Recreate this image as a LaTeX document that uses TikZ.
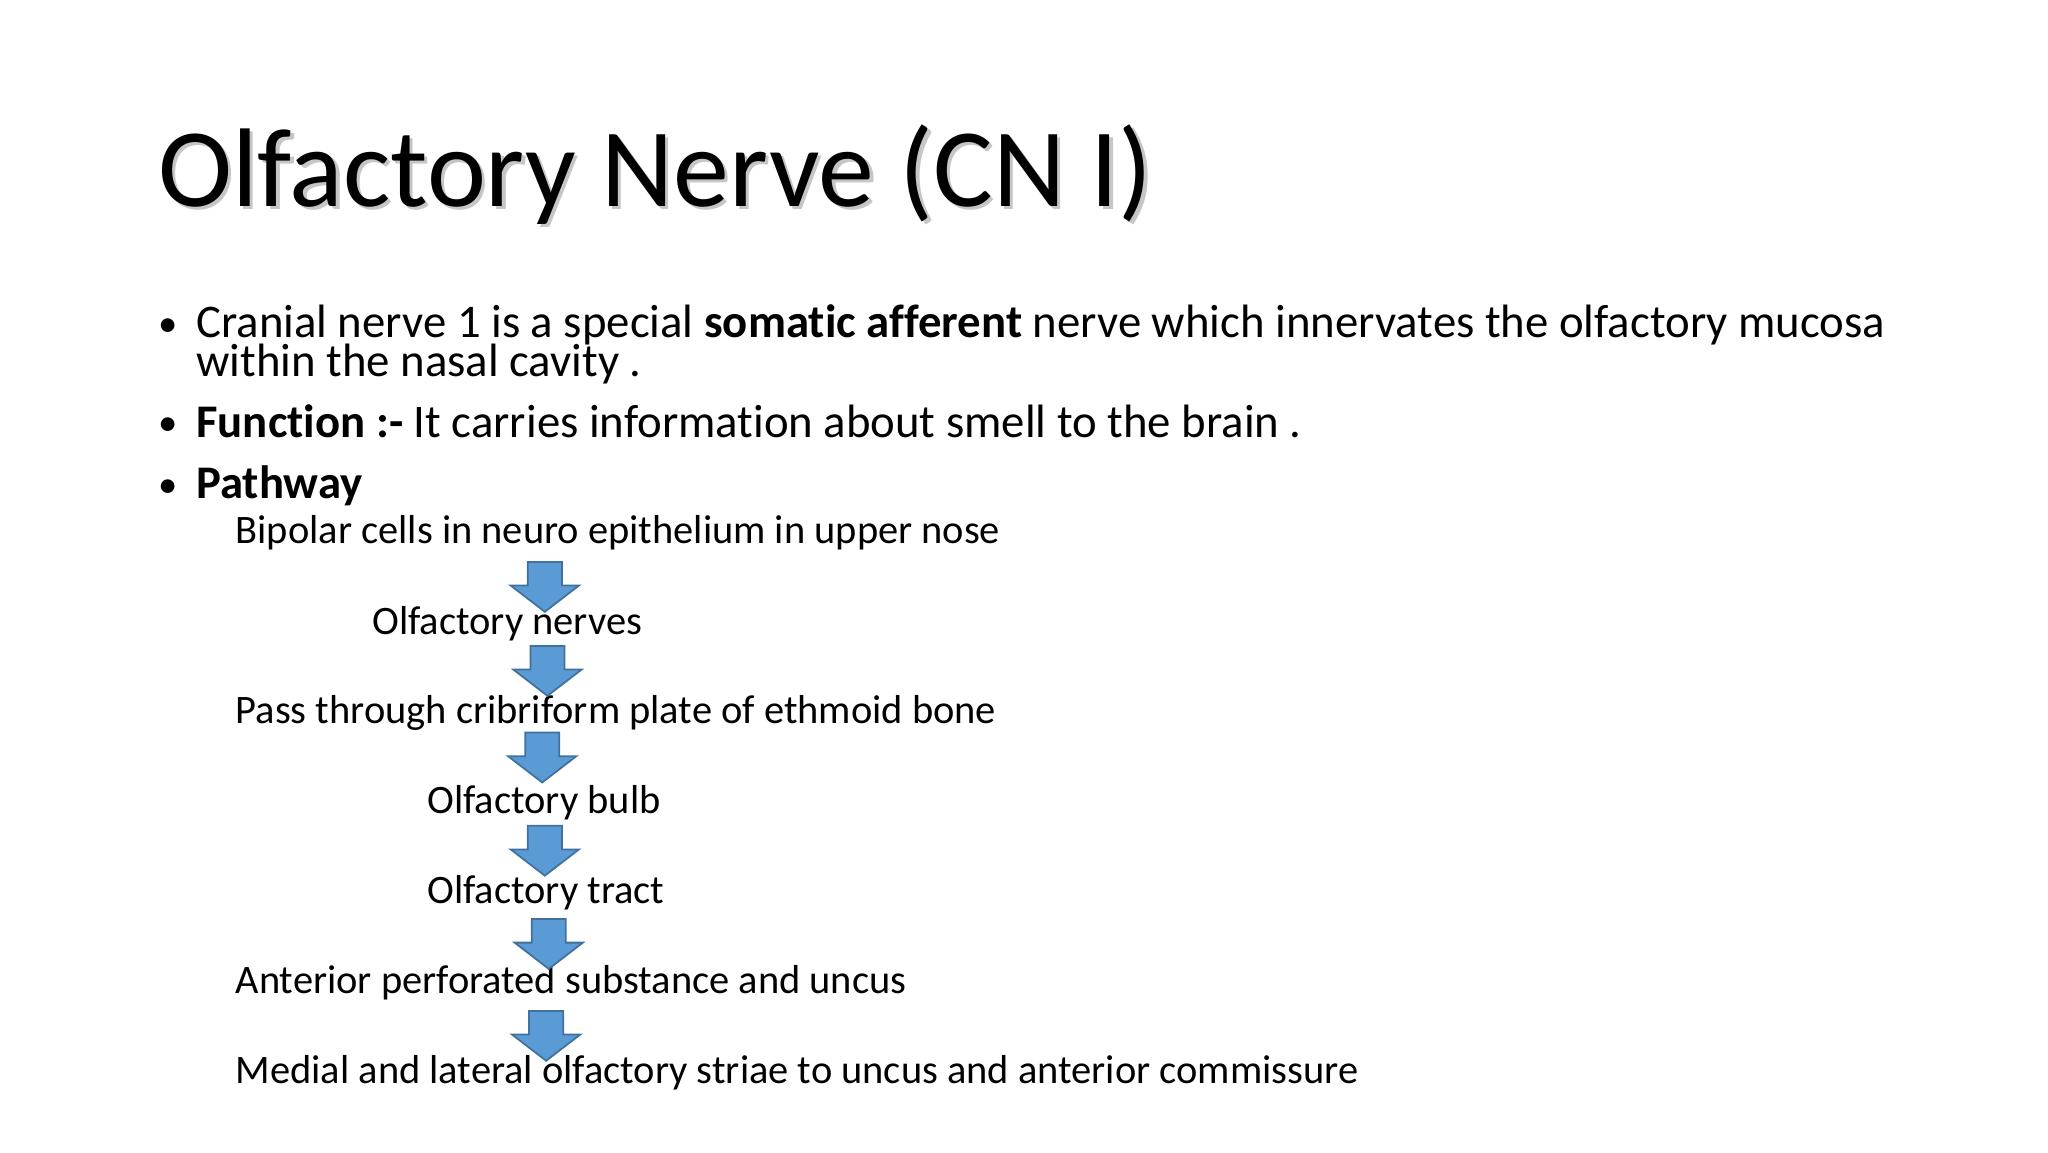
\documentclass[tikz,border=0pt]{standalone}
\usepackage{fontspec}
\setmainfont[RawFeature={-liga}]{Carlito}
\definecolor{arrfill}{HTML}{5B9BD5}
\definecolor{arrline}{HTML}{41719C}
\begin{document}
\begin{tikzpicture}[x=0.013128cm,y=-0.013128cm,
  pw/.style={anchor=base west,inner sep=0pt,font=\fontsize{11.5pt}{12pt}\selectfont},
  bl/.style={anchor=base west,inner sep=0pt,font=\fontsize{13.3pt}{13.5pt}\selectfont},
  dnarrow/.pic={\draw[fill=arrfill,draw=arrline,line width=0.5pt] (-13,0)--(13,0)--(13,18)--(26,18)--(0,38)--(-26,18)--(-13,18)--cycle;}]
\useasboundingbox (0,0) rectangle (1560,877.5);
\fill[white] (0,0) rectangle (1560,877.5);
\node[anchor=base west,inner sep=0pt,font=\fontsize{31.8pt}{36pt}\selectfont,text=gray!45] (tsh) at (122.5,159.5) {Olfactory Nerve (CN I)};
\node[anchor=base west,inner sep=0pt,font=\fontsize{31.8pt}{36pt}\selectfont] (title) at (120,157) {Olfactory Nerve (CN I)};
\node[bl] (b1) at (120,256) {\fontsize{11pt}{12pt}\selectfont•};
\node[bl] (t1) at (149,257) {Cranial nerve 1 is a special \textbf{somatic afferent} nerve which innervates the olfactory mucosa};
\node[bl] (t1b) at (149,287) {within the nasal cavity .};
\node[bl] (b2) at (120,332) {\fontsize{11pt}{12pt}\selectfont•};
\node[bl] (t2) at (149,333) {\textbf{Function :-} It carries information about smell to the brain .};
\node[bl] (b3) at (120,379) {\fontsize{11pt}{12pt}\selectfont•};
\node[bl] (t3) at (149,380) {\textbf{Pathway}};
\node[pw] (p1) at (179,414) {Bipolar cells in neuro epithelium in upper nose};
\node[pw] (p2) at (283,483) {Olfactory nerves};
\node[pw] (p3) at (179,551) {Pass through cribriform plate of ethmoid bone};
\node[pw] (p4) at (325,620) {Olfactory bulb};
\node[pw] (p5) at (325,688) {Olfactory tract};
\node[pw] (p6) at (179,757) {Anterior perforated substance and uncus};
\node[pw] (p7) at (179,825) {Medial and lateral olfactory striae to uncus and anterior commissure};
\pic at (415,428) {dnarrow};
\pic at (417,492) {dnarrow};
\pic at (413,558) {dnarrow};
\pic at (415,629) {dnarrow};
\pic at (418,700) {dnarrow};
\pic at (416,770) {dnarrow};
\end{tikzpicture}
\end{document}
